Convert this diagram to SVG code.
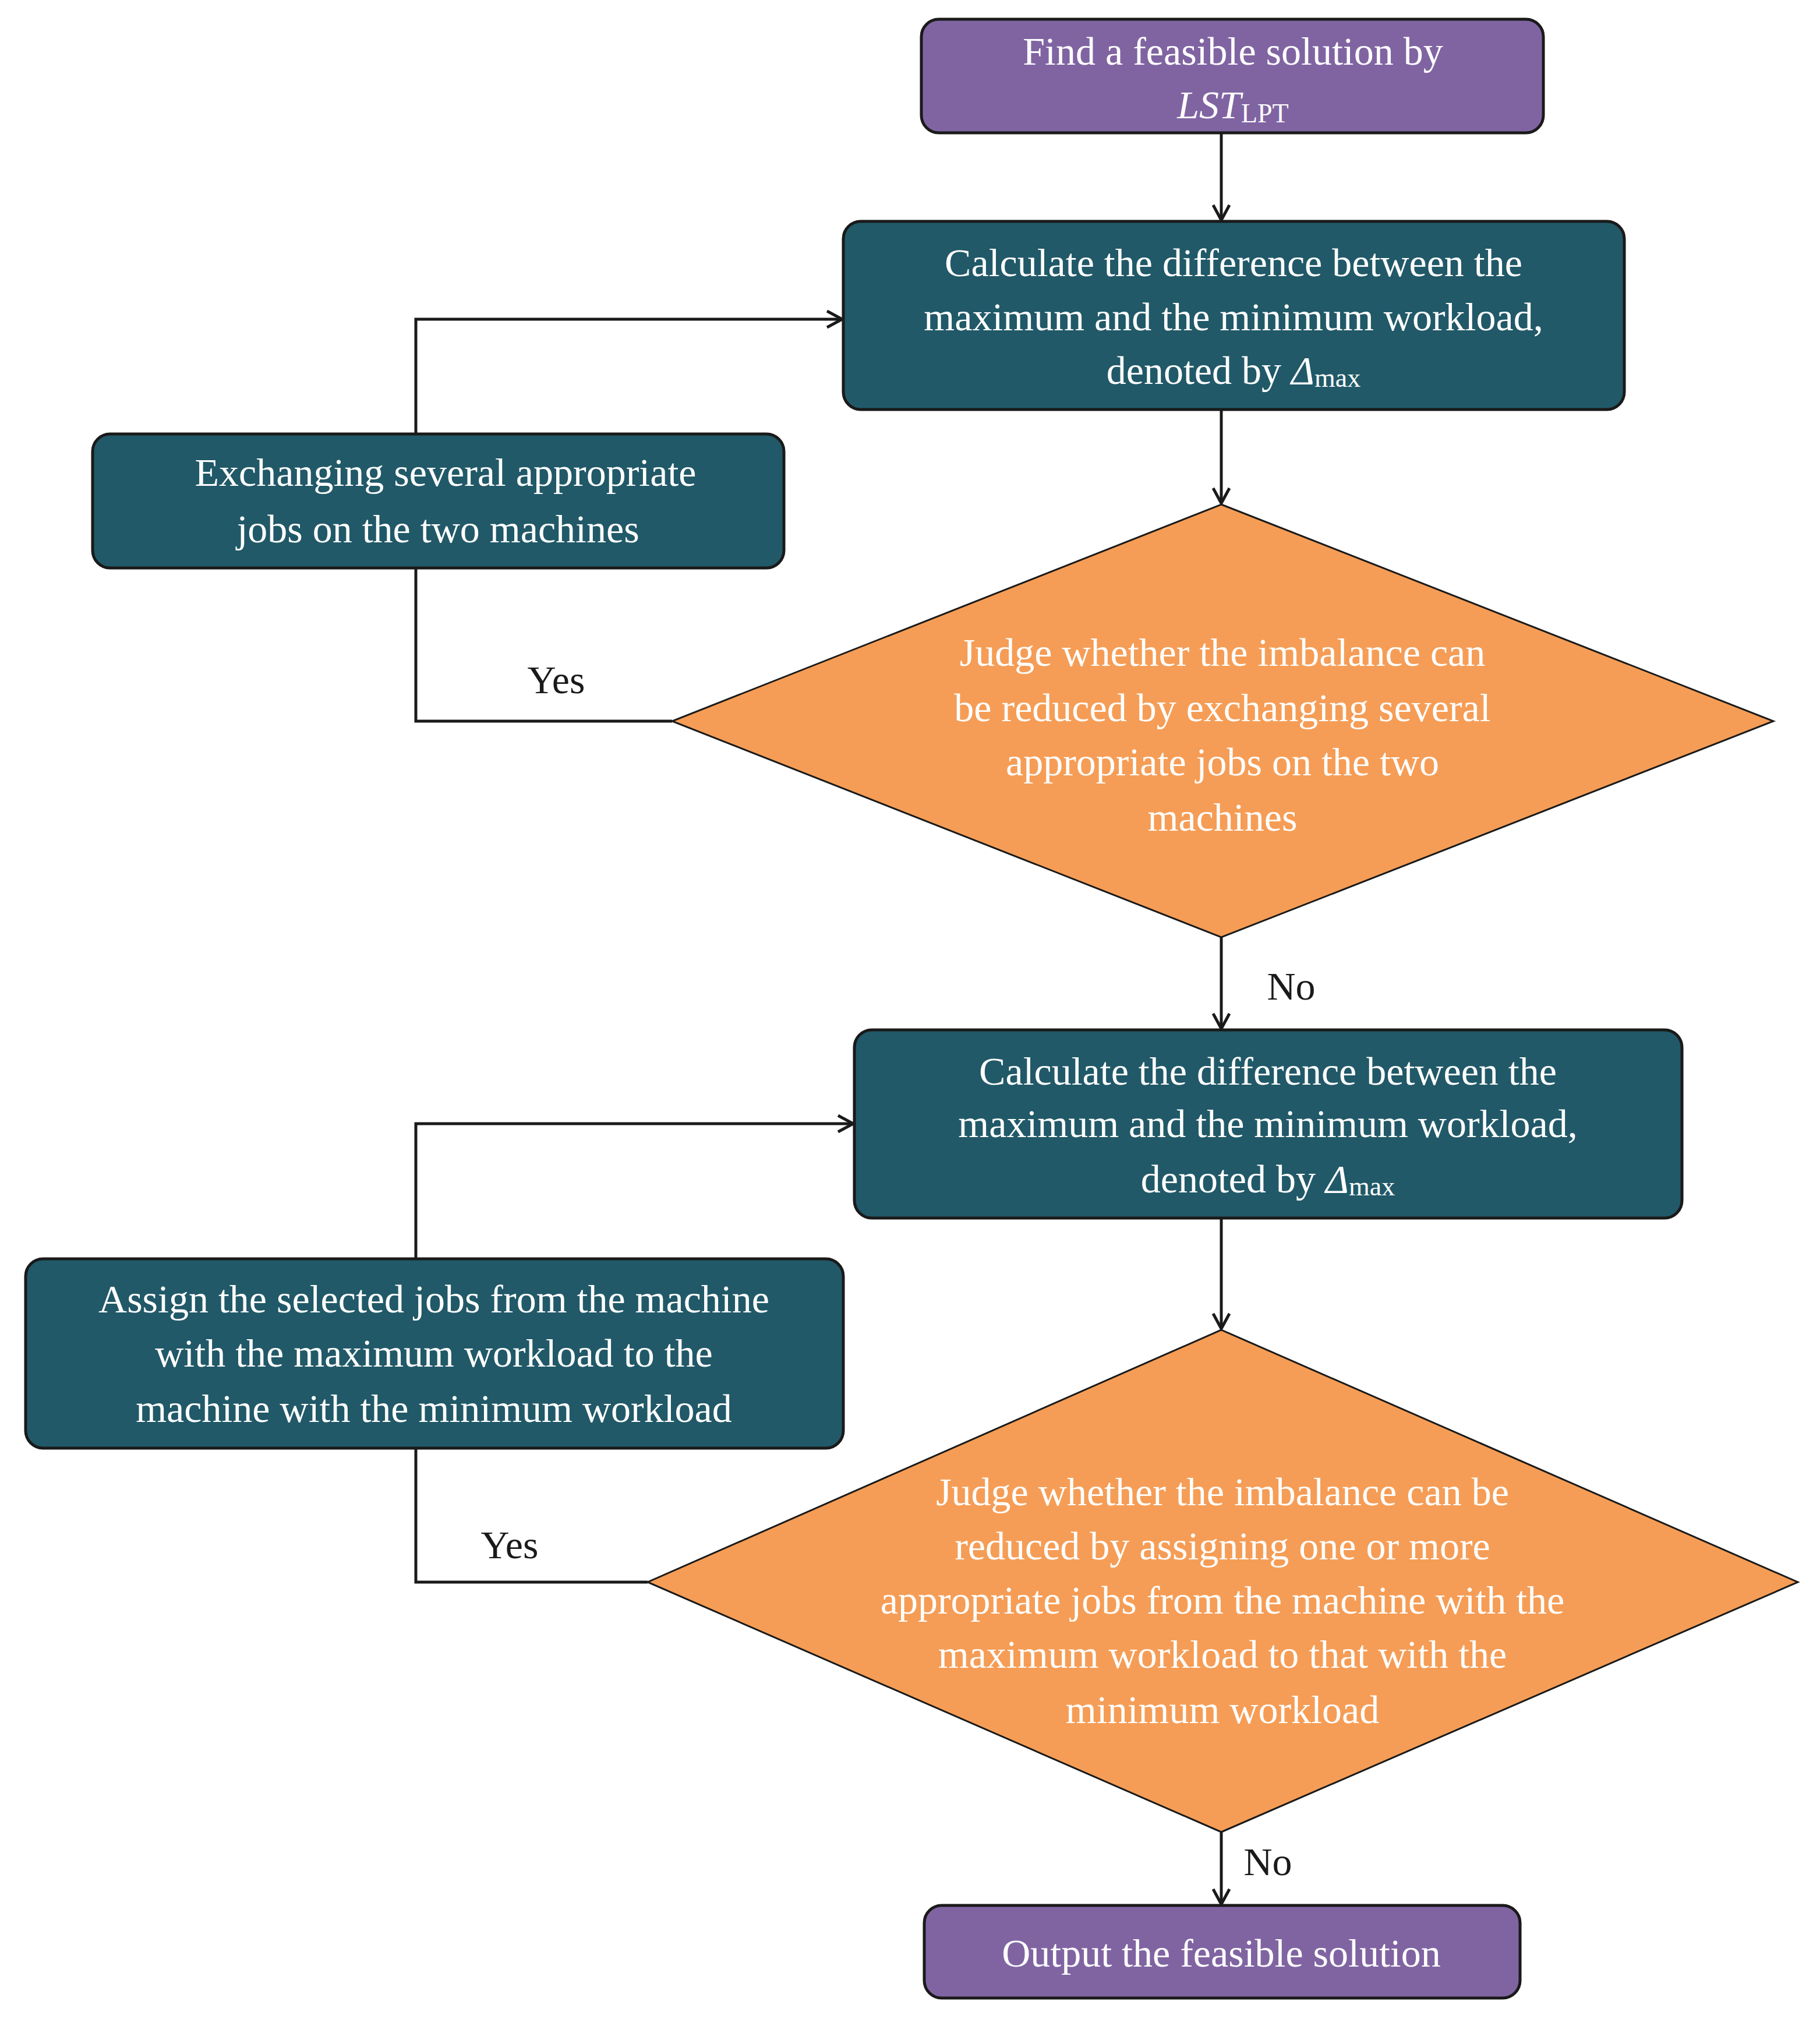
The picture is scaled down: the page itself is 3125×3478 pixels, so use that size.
<svg xmlns="http://www.w3.org/2000/svg" width="3125" height="3478" viewBox="0 0 3125 3478">
<style>
.p{fill:#8064A2;stroke:#1a1a1a;stroke-width:5}
.t{fill:#215968;stroke:#1a1a1a;stroke-width:5}
.o{fill:#F59D56;stroke:#1a1a1a;stroke-width:3}
text{font-family:"Liberation Serif",serif;font-size:68px;text-anchor:middle;dominant-baseline:central}
.w{fill:#fff}
.k{fill:#1a1a1a}
.c path{fill:none;stroke:#1a1a1a;stroke-width:5;marker-end:url(#a)}
</style>
<defs><marker id="a" markerWidth="12" markerHeight="12" refX="10" refY="6" orient="auto" markerUnits="userSpaceOnUse" viewBox="0 0 12 12"><path d="M0,0 L11,6 L0,12" fill="none" stroke="#1a1a1a" stroke-width="0"/></marker>
<marker id="b" markerWidth="40" markerHeight="40" refX="34" refY="20" orient="auto" markerUnits="userSpaceOnUse"><path d="M8,6 L34,20 L8,34" fill="none" stroke="#1a1a1a" stroke-width="5"/></marker></defs>
<g class="c">
<path d="M2097,228 V378" style="marker-end:url(#b)"/>
<path d="M2097,703 V864" style="marker-end:url(#b)"/>
<path d="M1154,1238 H714 V975" style="marker-end:none"/>
<path d="M714,745 V548 H1446" style="marker-end:url(#b)"/>
<path d="M2097,1609 V1766" style="marker-end:url(#b)"/>
<path d="M1112,2716 H714 V2486" style="marker-end:none"/>
<path d="M714,2161 V1929 H1465" style="marker-end:url(#b)"/>
<path d="M2097,2091 V2281" style="marker-end:url(#b)"/>
<path d="M2097,3145 V3269" style="marker-end:url(#b)"/>
<text class="k" x="955" y="1167">Yes</text>
<text class="k" x="2217" y="1693">No</text>
<text class="k" x="875" y="2652">Yes</text>
<text class="k" x="2177" y="3196">No</text>
</g>
<g id="n1"><rect class="p" x="1582" y="33" width="1068" height="195" rx="30"/>
<text class="w" x="2117" y="88">Find a feasible solution by</text>
<text class="w" x="2117" y="180"><tspan font-style="italic">LST</tspan><tspan font-size="46" dy="14">LPT</tspan></text></g>
<g id="n2"><rect class="t" x="1448" y="380" width="1341" height="323" rx="30"/>
<text class="w" x="2118" y="451">Calculate the difference between the</text>
<text class="w" x="2118" y="544">maximum and the minimum workload,</text>
<text class="w" x="2118" y="636">denoted by <tspan font-style="italic">Δ</tspan><tspan font-size="46" dy="12">max</tspan></text></g>
<g id="n3"><rect class="t" x="159" y="745" width="1187" height="230" rx="30"/>
<text class="w" x="765" y="811">Exchanging several appropriate</text>
<text class="w" x="752" y="908">jobs on the two machines</text></g>
<g id="n4"><polygon class="o" points="2097,866 3045,1238 2097,1609 1154,1238"/>
<text class="w" x="2099" y="1120">Judge whether the imbalance can</text>
<text class="w" x="2099" y="1215">be reduced by exchanging several</text>
<text class="w" x="2099" y="1308">appropriate jobs on the two</text>
<text class="w" x="2099" y="1403">machines</text></g>
<g id="n5"><rect class="t" x="1467" y="1768" width="1421" height="323" rx="30"/>
<text class="w" x="2177" y="1839">Calculate the difference between the</text>
<text class="w" x="2177" y="1929">maximum and the minimum workload,</text>
<text class="w" x="2177" y="2024">denoted by <tspan font-style="italic">Δ</tspan><tspan font-size="46" dy="12">max</tspan></text></g>
<g id="n6"><rect class="t" x="44" y="2161" width="1404" height="325" rx="30"/>
<text class="w" x="745" y="2230">Assign the selected jobs from the machine</text>
<text class="w" x="745" y="2323">with the maximum workload to the</text>
<text class="w" x="745" y="2418">machine with the minimum workload</text></g>
<g id="n7"><polygon class="o" points="2097,2283 3087,2716 2097,3145 1112,2716"/>
<text class="w" x="2099" y="2561">Judge whether the imbalance can be</text>
<text class="w" x="2099" y="2654">reduced by assigning one or more</text>
<text class="w" x="2099" y="2747">appropriate jobs from the machine with the</text>
<text class="w" x="2099" y="2840">maximum workload to that with the</text>
<text class="w" x="2099" y="2935">minimum workload</text></g>
<g id="n8"><rect class="p" x="1587" y="3271" width="1023" height="159" rx="30"/>
<text class="w" x="2097" y="3353">Output the feasible solution</text></g>
</svg>
